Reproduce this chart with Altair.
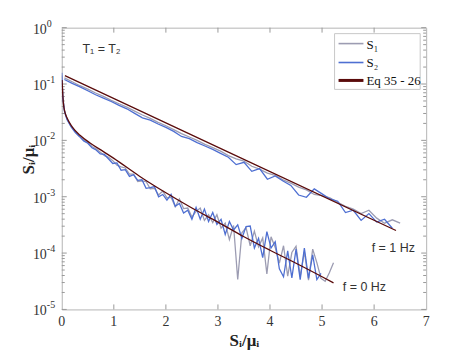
import altair as alt
import pandas as pd
import numpy as np

# ---------------- data (y stored as log10 values) -------------
series_names = ["S₁", "S₂", "Eq 35 - 26"]
series_colors = ["#9c9cb2", "#4e6fd2", "#5a0b0b"]

# f = 1 Hz branch
x_f1 = [0.05, 0.2, 0.35, 0.5, 0.65, 0.8, 0.95, 1.1, 1.25, 1.4,
        1.55, 1.7, 1.85, 2.0, 2.15, 2.3, 2.45, 2.6, 2.75, 2.9,
        3.05, 3.2, 3.35, 3.5, 3.65, 3.8, 3.95, 4.1, 4.25, 4.4,
        4.55, 4.7, 4.85, 5.0, 5.15, 5.3, 5.45, 5.6, 5.75, 5.9,
        6.05, 6.2, 6.35, 6.5]
s1_f1_log = [-0.89, -0.96, -1.03, -1.09, -1.16, -1.22, -1.29, -1.35, -1.41, -1.48,
             -1.55, -1.61, -1.68, -1.74, -1.81, -1.88, -1.94, -2.00, -2.07, -2.13,
             -2.19, -2.27, -2.33, -2.37, -2.46, -2.51, -2.58, -2.62, -2.70, -2.76,
             -2.83, -2.88, -2.96, -2.98, -3.02, -3.10, -3.17, -3.22, -3.30, -3.24,
             -3.38, -3.47, -3.41, -3.47]
s2_f1_log = [-0.92, -0.99, -1.05, -1.12, -1.19, -1.25, -1.31, -1.38, -1.44, -1.52,
             -1.60, -1.64, -1.71, -1.77, -1.84, -1.93, -1.97, -2.04, -2.10, -2.16,
             -2.23, -2.30, -2.43, -2.39, -2.55, -2.50, -2.69, -2.63, -2.72, -2.80,
             -2.97, -3.01, -2.86, -2.95, -3.04, -3.08, -3.28, -3.24, -3.42, -3.30,
             -3.45, -3.40, -3.56]
eq_f1_x = [0.06, 3.2, 6.42]
eq_f1_log = [-0.85, -2.21, -3.60]

# f = 0 Hz branch
x_f0 = [0.0, 0.02, 0.05, 0.1, 0.18, 0.26, 0.34, 0.42, 0.5, 0.58,
        0.66, 0.74, 0.82, 0.9, 0.98, 1.06, 1.14, 1.22, 1.3, 1.38,
        1.46, 1.54, 1.62, 1.7, 1.78, 1.86, 1.94, 2.02, 2.1, 2.18,
        2.26, 2.34, 2.42, 2.5, 2.58, 2.66, 2.74, 2.82, 2.9, 2.98,
        3.06, 3.14, 3.22, 3.3, 3.38, 3.46, 3.54, 3.62, 3.7, 3.78,
        3.86, 3.94, 4.02, 4.1, 4.18, 4.26, 4.34, 4.42, 4.5, 4.58,
        4.66, 4.74, 4.82, 4.9, 4.98, 5.06, 5.14, 5.22]
s1_f0_log = [-0.85, -1.22, -1.46, -1.62, -1.75, -1.84, -1.93, -1.99, -2.04, -2.11,
             -2.15, -2.21, -2.27, -2.30, -2.36, -2.44, -2.47, -2.49, -2.60, -2.60,
             -2.73, -2.72, -2.73, -2.86, -2.85, -2.97, -2.90, -3.02, -3.01, -3.18,
             -3.04, -3.21, -3.20, -3.36, -3.26, -3.20, -3.42, -3.32, -3.46, -3.32,
             -3.56, -3.47, -3.76, -3.51, -4.47, -3.64, -3.55, -3.87, -3.61, -3.89,
             -3.73, -4.37, -3.71, -3.90, -4.18, -3.87, -4.41, -3.99, -3.88, -4.42,
             -3.98, -4.48, -3.93, -4.17, -4.45, -4.50, -4.35, -4.17]
s2_f0_log = [-0.80, -1.24, -1.48, -1.63, -1.76, -1.86, -1.93, -2.01, -2.05, -2.13,
             -2.17, -2.24, -2.25, -2.33, -2.41, -2.40, -2.53, -2.52, -2.64, -2.61,
             -2.71, -2.70, -2.85, -2.84, -2.82, -3.00, -2.96, -3.06, -2.96, -3.17,
             -3.12, -3.29, -3.24, -3.40, -3.19, -3.40, -3.22, -3.44, -3.28, -3.49,
             -3.40, -3.67, -3.44, -3.59, -3.50, -3.74, -3.53, -3.52, -3.91, -3.74,
             -4.08, -3.62, -3.91, -3.80, -4.28, -4.42, -3.96, -4.44, -3.93, -4.47,
             -3.91, -4.45, -4.03, -4.47, -4.36]
eq_f0_x = [0.005, 0.01, 0.02, 0.03, 0.06, 0.1, 0.2, 0.35, 0.55, 0.8, 1.0,
           1.5, 2.0, 2.5, 3.0, 3.5, 4.0, 4.5, 5.0, 5.22]
eq_f0_log = [-0.93, -1.0, -1.2, -1.33, -1.5, -1.6, -1.76, -1.91, -2.05, -2.2, -2.32,
             -2.64, -2.93, -3.2, -3.45, -3.71, -3.95, -4.18, -4.42, -4.53]

x_ticks = [0, 1, 2, 3, 4, 5, 6, 7]
x_tick_labels = ["0", "1", "2", "3", "4", "5", "6", "7"]
y_major = [1e-5, 1e-4, 1e-3, 1e-2, 1e-1, 1.0]
y_exponents = ["-5", "-4", "-3", "-2", "-1", "0"]
y_minor = [m * 10.0 ** k for k in range(-5, 0) for m in range(2, 10)]
annotations = ["T₁ = T₂", "f = 1 Hz", "f = 0 Hz"]


def frame(xs, logs, name, grp):
    return pd.DataFrame({"x": xs[:len(logs)], "y": [10.0 ** v for v in logs],
                         "series": name, "grp": grp})


df_s1 = pd.concat([frame(x_f1, s1_f1_log, "S₁", "s1f1"), frame(x_f0, s1_f0_log, "S₁", "s1f0")])
df_s2 = pd.concat([frame(x_f1, s2_f1_log, "S₂", "s2f1"), frame(x_f0, s2_f0_log, "S₂", "s2f0")])
df_eq = pd.concat([frame(eq_f1_x, eq_f1_log, "Eq 35 - 26", "eqf1"),
                   frame(eq_f0_x, eq_f0_log, "Eq 35 - 26", "eqf0")])
df_one = pd.DataFrame({"a": [0]})

W, H = 366, 283
SERIF = "Times New Roman, Liberation Serif, serif"
SANS = "Arial, Liberation Sans, sans-serif"
LBL = "#333333"

xscale = alt.Scale(domain=[0, 7], nice=False, zero=False)
yscale = alt.Scale(type="log", domain=[1e-5, 1], nice=False)

xaxis = alt.Axis(values=x_ticks, title="Sᵢ/μᵢ", ticks=False, domain=False, grid=False,
                 labels=False,
                 titleFont=SERIF, titleFontSize=17, titleFontWeight="bold", titleColor="#222",
                 titleX=183, titleY=36, titleBaseline="alphabetic")
yaxis = alt.Axis(values=y_major, title="Sᵢ/μᵢ", ticks=False, domain=False, grid=False,
                 labels=False,
                 titleFont=SERIF, titleFontSize=17, titleFontWeight="bold", titleColor="#222",
                 titleX=-33, titleY=132, titleAngle=270, titleAlign="center",
                 titleBaseline="middle")

color = alt.Color("series:N", scale=alt.Scale(domain=series_names, range=series_colors),
                  legend=None)
swidth = alt.StrokeWidth("series:N", scale=alt.Scale(domain=series_names, range=[1.3, 1.3, 3.0]),
                         legend=None)

X = alt.X("x:Q", scale=xscale, axis=xaxis)
Y = alt.Y("y:Q", scale=yscale, axis=yaxis)

l_s1 = alt.Chart(df_s1).mark_line(clip=True).encode(x=X, y=Y, color=color, strokeWidth=swidth,
                                                      detail="grp:N")
l_s2 = alt.Chart(df_s2).mark_line(clip=True).encode(x=X, y=Y, color=color, strokeWidth=swidth,
                                                      detail="grp:N")
l_eq = alt.Chart(df_eq).mark_line(clip=True, interpolate="monotone").encode(
    x=X, y=Y, color=color, strokeWidth=swidth, detail="grp:N")

# inward ticks on all four sides
tick_col = "#999999"
df_ymaj = pd.DataFrame({"y": y_major, "exp": y_exponents})
df_ymin = pd.DataFrame({"y": y_minor})
df_xt = pd.DataFrame({"x": x_ticks[1:-1]})
df_xl = pd.DataFrame({"x": x_ticks, "lab": x_tick_labels})
ticks = [
    alt.Chart(df_ymaj).mark_rule(color=tick_col, strokeWidth=1).encode(y=Y, x=alt.value(0), x2=alt.value(5)),
    alt.Chart(df_ymaj).mark_rule(color=tick_col, strokeWidth=1).encode(y=Y, x=alt.value(W), x2=alt.value(W - 5)),
    alt.Chart(df_ymin).mark_rule(color=tick_col, strokeWidth=1).encode(y=Y, x=alt.value(0), x2=alt.value(3)),
    alt.Chart(df_ymin).mark_rule(color=tick_col, strokeWidth=1).encode(y=Y, x=alt.value(W), x2=alt.value(W - 3)),
    alt.Chart(df_xt).mark_rule(color=tick_col, strokeWidth=1).encode(x=X, y=alt.value(H), y2=alt.value(H - 5)),
    alt.Chart(df_xt).mark_rule(color=tick_col, strokeWidth=1).encode(x=X, y=alt.value(0), y2=alt.value(5)),
]

# tick labels (MATLAB style: 10 with raised exponent)
labels = [
    alt.Chart(df_xl).mark_text(font=SERIF, fontSize=14, color=LBL, align="center",
                               baseline="middle").encode(x=X, y=alt.value(H + 13), text="lab:N"),
    alt.Chart(df_ymaj).mark_text(font=SERIF, fontSize=14, color=LBL, align="right",
                                 baseline="middle", dy=2).encode(y=Y, x=alt.value(-15), text=alt.value("10")),
    alt.Chart(df_ymaj).mark_text(font=SERIF, fontSize=10, color=LBL, align="left",
                                 baseline="middle", dy=-4).encode(y=Y, x=alt.value(-15), text="exp:N"),
]

txt = dict(font=SANS, fontSize=12.5, fontWeight="normal", color="#333", align="center",
           baseline="alphabetic")
t1 = alt.Chart(df_one).mark_text(**txt).encode(x=alt.value(40), y=alt.value(25), text=alt.value(annotations[0]))
t2 = alt.Chart(df_one).mark_text(**txt).encode(x=alt.value(333), y=alt.value(225), text=alt.value(annotations[1]))
t3 = alt.Chart(df_one).mark_text(**txt).encode(x=alt.value(304), y=alt.value(264), text=alt.value(annotations[2]))

# legend box (drawn like the MATLAB legend)
LX0, LX1, LY0, LY1 = 274, 360, 6, 62
rows = [16, 35, 53]
legend_layers = [
    alt.Chart(df_one).mark_rect(fill="white", stroke="#c8c8c8", strokeWidth=1).encode(
        x=alt.value(LX0), x2=alt.value(LX1), y=alt.value(LY0), y2=alt.value(LY1))
]
for i, name in enumerate(series_names):
    legend_layers.append(
        alt.Chart(df_one).mark_rule(color=series_colors[i], strokeWidth=(3.0 if i == 2 else 1.6)).encode(
            x=alt.value(LX0 + 4), x2=alt.value(LX0 + 29), y=alt.value(rows[i])))
    legend_layers.append(
        alt.Chart(df_one).mark_text(font=SERIF, fontSize=13, color="#111", align="left",
                                    baseline="middle").encode(
            x=alt.value(LX0 + 32), y=alt.value(rows[i] + 1), text=alt.value(name)))

chart = alt.layer(*ticks, l_s1, l_s2, l_eq, *labels, t1, t2, t3, *legend_layers).properties(
    width=W, height=H,
    autosize=alt.AutoSizeParams(type="none"),
    padding={"left": 54, "top": 19, "right": 40, "bottom": 40},
).configure_view(stroke="#b4b4b4", strokeWidth=1)

chart.save("out.html", embed_options={"renderer": "svg", "actions": False})
